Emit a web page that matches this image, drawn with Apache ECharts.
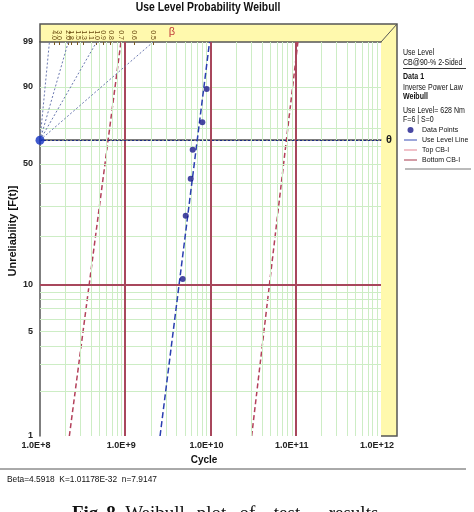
<!DOCTYPE html>
<html>
<head>
<meta charset="utf-8">
<script src="https://cdn.jsdelivr.net/npm/echarts@6/dist/echarts.min.js"></script>
<style>
  html, body { margin: 0; padding: 0; background: #fff; }
  #chart { width: 474px; height: 512px; }
</style>
</head>
<body>
<div id="chart"></div>
<script>
// values
const failureCycles = [4.72e9, 5.12e9, 5.86e9, 6.18e9, 8.02e9, 9.02e9];
const failurePct = [10.9, 26.6, 42.2, 57.8, 73.4, 89.1];
const lineEndPct = [1, 99];
const useLevelCycles = [2.56e9, 9.75e9];
const topCbCycles = [2.21e8, 8.9e8];
const bottomCbCycles = [3.04e10, 1.06e11];
const etaPoint = [1e8, 63.2];

// axis ticks / grid
const yTickPct = [1, 5, 10, 50, 90, 99];
const yGridPct = [2, 3, 4, 5, 6, 7, 8, 9, 20, 30, 40, 50, 60, 70, 80, 90];
const yRedPct = [10];
const decades = [1e8, 1e9, 1e10, 1e11];
const minorSteps = [2, 3, 4, 5, 6, 7, 8, 9];
const majorCycles = [1e9, 1e10, 1e11];
const betaTicks = [6, 4, 3, 2, 1.8, 1.5, 1.3, 1.1, 1.0, 0.9, 0.8, 0.7, 0.6, 0.5];
const betaFan = [6, 2, 1, 0.5];

// text blocks
const infoLines = [
  ['Use Level', 53, 'normal'],
  ['CB@90-% 2-Sided', 63, 'normal'],
  ['Data 1', 77, 'bold'],
  ['Inverse Power Law', 88, 'normal'],
  ['Weibull', 97, 'bold'],
  ['Use Level= 628 Nm', 111, 'normal'],
  ['F=6 | S=0', 120, 'normal']
];
const captionWords = [
  ['Fig.', 87.5, 'bold'], ['8', 111, 'bold'], ['Weibull', 155, 'normal'],
  ['plot', 211.5, 'normal'], ['of', 247.5, 'normal'], ['test', 287, 'normal'],
  ['results', 353.5, 'normal']
];

const SANS = "'Liberation Sans', Arial, sans-serif";
const SERIF = "'Liberation Serif', 'Times New Roman', serif";

// weibull probability scale
const weib = p => Math.log(-Math.log(1 - p / 100));
const unweib = v => 100 * (1 - Math.exp(-Math.exp(v)));
const W99 = weib(99);
// beta scale: line through eta point with slope beta reaches 99% at this cycle count
const betaCycle = b => etaPoint[0] * Math.exp((W99 - weib(etaPoint[1])) / b);
const betaCycles = betaTicks.map(betaCycle);

const pairs = (xs, ps) => xs.map((x, i) => [x, weib(ps[i])]);

const chart = echarts.init(document.getElementById('chart'));

const minorLines = [];
decades.forEach(d => minorSteps.forEach(s => minorLines.push({ xAxis: d * s })));
yGridPct.forEach(p => minorLines.push({ yAxis: weib(p) }));

const majorLines = majorCycles.map(x => ({ xAxis: x }))
  .concat(yRedPct.map(p => ({ yAxis: weib(p) })));

const fanLines = betaFan.map(b => [
  { coord: [etaPoint[0], weib(etaPoint[1])] },
  { coord: [betaCycle(b), W99] }
]);

const linePath = 'path://M0,2.5H14V3.5H0Z';

const narrowText = (text, x, y, size, weight, sx) => ({
  type: 'text', x, y, scaleX: sx, z: 10,
  style: { text, fontFamily: SANS, fontSize: size, fontWeight: weight, fill: '#111', verticalAlign: 'middle' }
});

const graphics = [
  { type: 'rect', z: -1, shape: { x: 40, y: 24, width: 357, height: 18 }, style: { fill: '#fff9ad' } },
  { type: 'rect', z: -1, shape: { x: 381, y: 24, width: 16, height: 412 }, style: { fill: '#fff9ad' } },
  { type: 'polyline', z: 10, shape: { points: [[40, 42], [40, 24], [397, 24], [397, 436], [381, 436]] },
    style: { stroke: '#555', lineWidth: 1.5, fill: null } },
  { type: 'line', z: 10, shape: { x1: 397, y1: 24, x2: 381, y2: 42 }, style: { stroke: '#555', lineWidth: 1 } },
  { type: 'text', z: 10, x: 208, y: 8, scaleX: 0.83,
    style: { text: 'Use Level Probability Weibull', fontFamily: SANS, fontSize: 12.5, fontWeight: 'bold', fill: '#111', align: 'center', verticalAlign: 'middle' } },
  { type: 'text', z: 10, x: 172, y: 32, style: { text: 'β', fontFamily: SANS, fontSize: 11, fill: '#c03a3a', align: 'center', verticalAlign: 'middle' } },
  { type: 'text', z: 10, x: 13, y: 231, rotation: Math.PI / 2,
    style: { text: 'Unreliability [F(t)]', fontFamily: SANS, fontSize: 11, fontWeight: 'bold', fill: '#111', align: 'center', verticalAlign: 'middle' } },
  { type: 'text', z: 10, x: 204, y: 460,
    style: { text: 'Cycle', fontFamily: SANS, fontSize: 10, fontWeight: 'bold', fill: '#111', align: 'center', verticalAlign: 'middle' } },
  { type: 'line', shape: { x1: 403, y1: 68.5, x2: 466, y2: 68.5 }, style: { stroke: '#333', lineWidth: 1 } },
  { type: 'line', shape: { x1: 405, y1: 169, x2: 471, y2: 169 }, style: { stroke: '#777', lineWidth: 1 } },
  { type: 'line', shape: { x1: 0, y1: 469, x2: 466, y2: 469 }, style: { stroke: '#555', lineWidth: 1 } },
  narrowText('Beta=4.5918  K=1.01178E-32  n=7.9147', 7, 480, 9, 'normal', 0.93)
];
infoLines.forEach(([t, y, w]) => graphics.push(narrowText(t, 403, y, 9, w, 0.78)));
captionWords.forEach(([t, x, w]) => graphics.push({
  type: 'text', x, y: 514,
  style: { text: t, fontFamily: SERIF, fontSize: 19, fontWeight: w, fill: '#111', align: 'center', verticalAlign: 'middle' }
}));

chart.setOption({
  animation: false,
  backgroundColor: '#fff',
  grid: { left: 40, top: 42, width: 341, height: 394 },
  legend: {
    orient: 'vertical', left: 404, top: 125, padding: 0,
    itemWidth: 13, itemHeight: 6, itemGap: 0,
    selectedMode: false,
    textStyle: { fontFamily: SANS, fontSize: 7, color: '#111', lineHeight: 10 },
    data: [
      { name: 'Data Points', icon: 'circle', itemStyle: { color: '#1a1a8c', borderWidth: 0 } },
      { name: 'Use Level Line', icon: linePath, itemStyle: { color: '#2a3fb0', borderWidth: 0 } },
      { name: 'Top CB-I', icon: linePath, itemStyle: { color: '#e07a8a', borderWidth: 0 } },
      { name: 'Bottom CB-I', icon: linePath, itemStyle: { color: '#a02a40', borderWidth: 0 } }
    ]
  },
  xAxis: [
    {
      type: 'log', logBase: 10, min: 1e8, max: 1e12,
      axisLine: { show: true, lineStyle: { color: '#555', width: 1.5 } },
      axisTick: { show: false },
      splitLine: { show: false },
      axisLabel: {
        formatter: v => '1.0E+' + Math.round(Math.log10(v)),
        fontFamily: SANS, fontSize: 9, fontWeight: 'bold', color: '#222',
        margin: 5, padding: [0, 8, 0, 0]
      }
    },
    {
      type: 'log', logBase: 10, min: 1e8, max: 1e12, position: 'top',
      axisLine: { show: true, lineStyle: { color: '#555', width: 1.5 } },
      axisTick: {
        show: true, inside: true, length: 3, customValues: betaCycles,
        lineStyle: { color: '#7a5a20' }
      },
      splitLine: { show: false },
      axisLabel: {
        customValues: betaCycles, rotate: 90, margin: 2,
        formatter: v => (W99 / Math.log(v / etaPoint[0])).toFixed(1),
        fontFamily: SANS, fontSize: 7, color: '#6a4a10'
      }
    }
  ],
  yAxis: {
    type: 'value', min: weib(1), max: W99,
    axisLine: { show: true, lineStyle: { color: '#555', width: 1.5 } },
    axisTick: { show: false },
    splitLine: { show: false },
    axisLabel: {
      customValues: yTickPct.map(weib),
      formatter: v => String(Math.round(unweib(v))),
      fontFamily: SANS, fontSize: 9, fontWeight: 'bold', color: '#222', margin: 7
    }
  },
  series: [
    {
      type: 'line', data: [], z: 1, silent: true,
      markLine: {
        silent: true, symbol: ['none', 'none'], animation: false,
        label: { show: false },
        lineStyle: { color: '#cdedc5', width: 1, type: 'solid' },
        data: minorLines
      }
    },
    {
      type: 'line', data: [], z: 2, silent: true,
      markLine: {
        silent: true, symbol: ['none', 'none'], animation: false,
        label: { show: false },
        lineStyle: { color: '#a8475c', width: 2, type: 'solid' },
        data: majorLines
      }
    },
    {
      type: 'line', data: [], z: 3, silent: true,
      markLine: {
        silent: true, symbol: ['none', 'none'], animation: false,
        label: {
          show: true, position: 'end', distance: 5, formatter: 'θ',
          fontFamily: SANS, fontSize: 11, fontWeight: 'bold', color: '#222'
        },
        lineStyle: { color: '#1a2a80', width: 1, type: [2, 2] },
        data: [{ yAxis: weib(etaPoint[1]) }]
      }
    },
    {
      type: 'line', data: [], z: 3, silent: true,
      markLine: {
        silent: true, symbol: ['none', 'none'], animation: false,
        label: { show: false },
        lineStyle: { color: '#6a78b0', width: 1, type: [2, 2] },
        data: fanLines
      }
    },
    {
      name: 'Top CB-I', type: 'line', z: 4, symbol: 'none',
      data: pairs(topCbCycles, lineEndPct),
      itemStyle: { color: '#e07a8a' },
      lineStyle: { color: '#b3405a', width: 1.5, type: [5, 3] }
    },
    {
      name: 'Bottom CB-I', type: 'line', z: 4, symbol: 'none',
      data: pairs(bottomCbCycles, lineEndPct),
      itemStyle: { color: '#a02a40' },
      lineStyle: { color: '#b3405a', width: 1.5, type: [5, 3] }
    },
    {
      name: 'Use Level Line', type: 'line', z: 5, symbol: 'none',
      data: pairs(useLevelCycles, lineEndPct),
      itemStyle: { color: '#2a3fb0' },
      lineStyle: { color: '#2a3fb0', width: 1.5, type: [6, 3] }
    },
    {
      name: 'Data Points', type: 'scatter', z: 6, symbolSize: 6,
      data: pairs(failureCycles, failurePct),
      itemStyle: { color: '#1a1a8c' }
    },
    {
      name: 'Use Level', type: 'scatter', z: 20, symbolSize: 9, clip: false,
      data: [[etaPoint[0], weib(etaPoint[1])]],
      itemStyle: { color: '#1030c0' }
    }
  ],
  graphic: graphics
});

window.addEventListener('resize', () => chart.resize());
</script>
</body>
</html>
